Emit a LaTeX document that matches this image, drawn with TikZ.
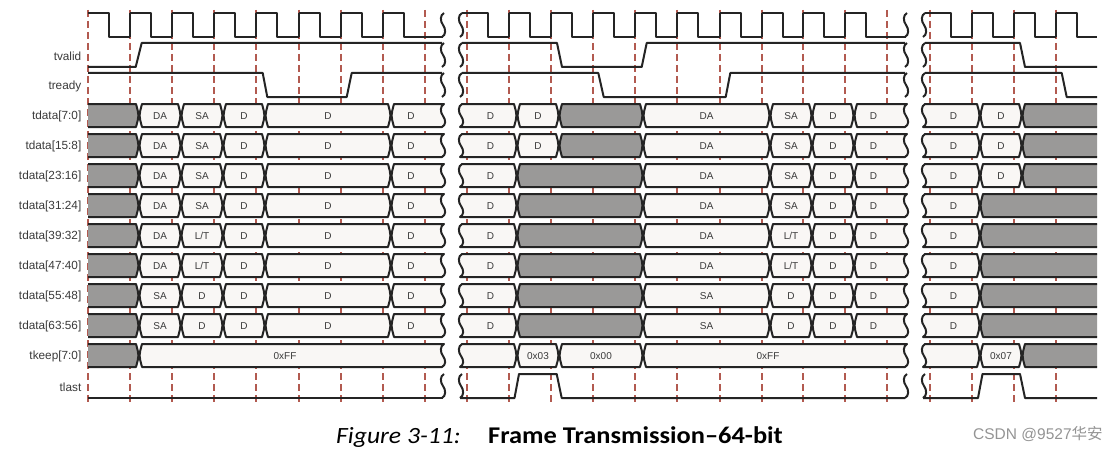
\documentclass[tikz,border=0pt]{standalone}
\usepackage{fontspec}
\setmainfont{Liberation Sans}
\newfontfamily\capfont[FakeStretch=1.1]{Carlito}
\newfontfamily\cjkfont{Noto Sans CJK SC}
\definecolor{dashred}{HTML}{B25A50}
\definecolor{inkline}{HTML}{242424}
\definecolor{busgray}{HTML}{9A9998}
\definecolor{busfill}{HTML}{F9F7F5}
\definecolor{labelink}{HTML}{3A3A3A}
\definecolor{markgray}{HTML}{949494}
\tikzset{
  tick/.style={draw=dashred,line width=2pt,dash pattern=on 7pt off 4pt},
  wire/.style={draw=inkline,line width=2pt,line join=round},
  sigtext/.style={anchor=east,inner sep=0pt,text=labelink,font=\fontsize{11.8}{12}\selectfont},
  celltext/.style={anchor=center,inner sep=0pt,text=labelink,font=\fontsize{10}{12}\selectfont},
  busw/.style={busfill},
  busg/.style={busgray},
}
\newcounter{cellno}
\def\wh{24}
\newcommand\wavepath[2]{(#1+3,#2) .. controls (#1-1,#2+2) and (#1-1,#2+8) .. (#1+2,#2+12) .. controls (#1+5,#2+16) and (#1+5,#2+\wh-2) .. (#1+1,#2+\wh)}
\newcommand\wavepathup[2]{(#1+1,#2+\wh) .. controls (#1+5,#2+\wh-2) and (#1+5,#2+16) .. (#1+2,#2+12) .. controls (#1-1,#2+8) and (#1-1,#2+2) .. (#1+3,#2)}
% #1 fill style, #2 x0, #3 x1, #4 y top, #5 text
\newcommand\bcell[5]{%
  \stepcounter{cellno}%
  \def\wh{23}%
  \def\lc{#2}\def\rc{#3}%
  \ifnum#2=88 \def\Lfill{(88,#4+23) -- (88,#4)}%
    \else\ifnum#2=459 \def\Lfill{\wavepathup{459}{#4}}\def\lc{464}%
    \else\ifnum#2=922 \def\Lfill{\wavepathup{922}{#4}}\def\lc{927}%
    \else \def\Lfill{(#2+3,#4+23) .. controls (#2+1.5,#4+17.5) and (#2+0.6,#4+14.5) .. (#2+0.6,#4+11.5) .. controls (#2+0.6,#4+8.5) and (#2+1.5,#4+5.5) .. (#2+3,#4)}\fi\fi\fi
  \ifnum#3=444 \def\Rfill{\wavepath{441}{#4}}\def\rc{431}%
    \else\ifnum#3=907 \def\Rfill{\wavepath{904}{#4}}\def\rc{893}%
    \else\ifnum#3=1097 \def\Rfill{(1097,#4) -- (1097,#4+23)}%
    \else \def\Rfill{(#3-3,#4) .. controls (#3-1.5,#4+5.5) and (#3-0.6,#4+8.5) .. (#3-0.6,#4+11.5) .. controls (#3-0.6,#4+14.5) and (#3-1.5,#4+17.5) .. (#3-3,#4+23)}\fi\fi\fi
  \fill[#1] \Lfill -- \Rfill -- cycle;
  \ifnum#2=88
    \draw[wire] (88,#4) -- \Rfill -- (88,#4+23);
  \else
    \ifnum#3=1097 \draw[wire] (1097,#4+23) -- \Lfill -- (1097,#4);
    \else \draw[wire] \Lfill -- \Rfill -- cycle;\fi
  \fi
  \node[celltext,name=cell\thecellno] at ({(\lc+\rc)/2},#4+11.7) {#5};%
}
\newcommand\sigwave[2]{\draw[wire] \wavepath{#1}{#2};}
\begin{document}
\begin{tikzpicture}[x=1pt,y=-1pt]
\useasboundingbox (0,0) rectangle (1119,452);
\fill[white] (0,0) rectangle (1119,452);
% time grid
\foreach \xx in {88,130,172,214,256,299,341,383,425, 467,509,551,593,635,677,720,762,803,845,887, 930,972,1014,1056}
  \draw[tick] (\xx,10) -- (\xx,404);
% clock
\foreach \xx/\nn in {88/130,130/172,172/214,214/256,256/299,299/341,341/383,383/425}
  \draw[wire] (\xx,13) -- (\xx+21,13) -- (\xx+21,37) -- (\nn,37);
\foreach \xx in {130,172,214,256,299,341,383}
  \draw[wire] (\xx,37) -- (\xx,13);
\draw[wire] (425,37) -- (443,37);
\draw[wire] (462,13) -- (467,13);
\foreach \xx/\nn in {467/509,509/551,551/593,593/635,635/677,677/720,720/762,762/803,803/845,845/887}
  \draw[wire] (\xx,13) -- (\xx+21,13) -- (\xx+21,37) -- (\nn,37);
\foreach \xx in {509,551,593,635,677,720,762,803,845}
  \draw[wire] (\xx,37) -- (\xx,13);
\draw[wire] (887,37) -- (906,37);
\draw[wire] (925,13) -- (930,13);
\foreach \xx/\nn in {930/972,972/1014,1014/1056,1056/1097}
  \draw[wire] (\xx,13) -- (\xx+21,13) -- (\xx+21,37) -- (\nn,37);
\foreach \xx in {972,1014,1056}
  \draw[wire] (\xx,37) -- (\xx,13);
% tvalid
\draw[wire] (88,67) -- (135.7,67) -- (141.7,43) -- (442,43);
\draw[wire] (462,43) -- (557,43) -- (562,67) -- (641.7,67) -- (646.7,43) -- (905,43);
\draw[wire] (925,43) -- (1020,43) -- (1025,67) -- (1097,67);
% tready
\draw[wire] (88,73) -- (262.7,73) -- (267.3,97) -- (346.7,97) -- (351.7,73) -- (442,73);
\draw[wire] (462,73) -- (598.3,73) -- (603.7,97) -- (725.7,97) -- (730.3,73) -- (905,73);
\draw[wire] (925,73) -- (1061.7,73) -- (1066.7,97) -- (1097,97);
% tlast
\draw[wire] (88,398) -- (443,398);
\draw[wire] (460,398) -- (514.5,398) -- (519,374) -- (556.7,374) -- (561.7,398) -- (905,398);
\draw[wire] (923,398) -- (978,398) -- (982.5,374) -- (1020,374) -- (1025,398) -- (1097,398);
% wave ends of the single-bit rows
\foreach \yy in {13,43,73,374} {\sigwave{441}{\yy}\sigwave{459}{\yy}\sigwave{904}{\yy}\sigwave{922}{\yy}}
% tdata buses
\foreach \row/\aa/\bb/\cc in {0/DA/SA/D,1/DA/SA/D,2/DA/SA/D,3/DA/SA/D,4/DA/L\slash T/D,5/DA/L\slash T/D,6/SA/D/D,7/SA/D/D} {
  \pgfmathsetmacro\yy{104+30*\row}
  \bcell{busg}{88}{139}{\yy}{}
  \bcell{busw}{139}{181}{\yy}{\aa}
  \bcell{busw}{181}{223}{\yy}{\bb}
  \bcell{busw}{223}{265}{\yy}{\cc}
  \bcell{busw}{265}{391}{\yy}{D}
  \bcell{busw}{391}{444}{\yy}{D}
  \bcell{busw}{643}{770}{\yy}{\aa}
  \bcell{busw}{770}{812}{\yy}{\bb}
  \bcell{busw}{812}{854}{\yy}{\cc}
  \bcell{busw}{854}{907}{\yy}{D}
}
\foreach \row in {0,1} {
  \pgfmathsetmacro\yy{104+30*\row}
  \bcell{busw}{459}{517}{\yy}{D}
  \bcell{busw}{517}{559}{\yy}{D}
  \bcell{busg}{559}{643}{\yy}{}
}
\foreach \row in {2,...,7} {
  \pgfmathsetmacro\yy{104+30*\row}
  \bcell{busw}{459}{517}{\yy}{D}
  \bcell{busg}{517}{643}{\yy}{}
}
\foreach \row in {0,1,2} {
  \pgfmathsetmacro\yy{104+30*\row}
  \bcell{busw}{922}{980}{\yy}{D}
  \bcell{busw}{980}{1022}{\yy}{D}
  \bcell{busg}{1022}{1097}{\yy}{}
}
\foreach \row in {3,...,7} {
  \pgfmathsetmacro\yy{104+30*\row}
  \bcell{busw}{922}{980}{\yy}{D}
  \bcell{busg}{980}{1097}{\yy}{}
}
% tkeep
\bcell{busg}{88}{139}{344}{}
\bcell{busw}{139}{444}{344}{0xFF}
\bcell{busw}{459}{517}{344}{}
\bcell{busw}{517}{559}{344}{0x03}
\bcell{busw}{559}{643}{344}{0x00}
\bcell{busw}{643}{907}{344}{0xFF}
\bcell{busw}{922}{980}{344}{}
\bcell{busw}{980}{1022}{344}{0x07}
\bcell{busg}{1022}{1097}{344}{}
% signal names
\node[sigtext] (ltvalid) at (81.5,56) {tvalid};
\node[sigtext] (ltready) at (81.5,86.5) {tready};
\node[sigtext] (ld0) at (81.5,116) {tdata[7:0]};
\node[sigtext] (ld1) at (81.5,146) {tdata[15:8]};
\node[sigtext] (ld2) at (81.5,176) {tdata[23:16]};
\node[sigtext] (ld3) at (81.5,206) {tdata[31:24]};
\node[sigtext] (ld4) at (81.5,236) {tdata[39:32]};
\node[sigtext] (ld5) at (81.5,266) {tdata[47:40]};
\node[sigtext] (ld6) at (81.5,296) {tdata[55:48]};
\node[sigtext] (ld7) at (81.5,326) {tdata[63:56]};
\node[sigtext] (ltkeep) at (81.5,356) {tkeep[7:0]};
\node[sigtext] (ltlast) at (81.5,387) {tlast};
% caption
\node[anchor=base west,inner sep=0pt,font=\capfont\itshape\fontsize{23.3}{26}\selectfont] (capa) at (336,443) {Figure 3-11:};
\node[anchor=base west,inner sep=0pt,font=\capfont\bfseries\fontsize{24}{26}\selectfont] (capb) at (488,443) {Frame Transmission–64-bit};
\node[anchor=base west,inner sep=0pt,text=markgray,font=\fontsize{15.5}{17}\selectfont] (mark) at (973,439.5) {CSDN @9527{\cjkfont 华安}};
\end{tikzpicture}
\end{document}
